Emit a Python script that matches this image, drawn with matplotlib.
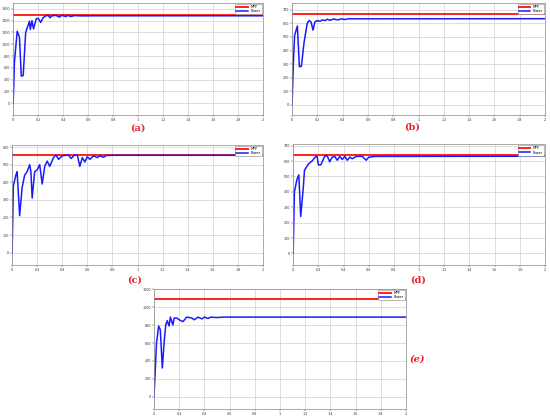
import matplotlib
matplotlib.use("Agg")
import matplotlib.pyplot as plt

# --- datos ---
t_a = [0, 0.01, 0.032, 0.05, 0.065, 0.08, 0.1, 0.13, 0.137, 0.15, 0.163, 0.184, 0.2, 0.22,
       0.24, 0.26, 0.28, 0.295, 0.31, 0.34, 0.37, 0.39, 0.42, 0.44, 0.46, 0.49, 0.55, 0.65, 2.0]
p_a = [0, 700, 1220, 1120, 460, 470, 1200, 1390, 1250, 1400, 1260, 1430, 1440, 1370,
       1450, 1480, 1490, 1450, 1480, 1490, 1460, 1490, 1470, 1490, 1470, 1485, 1480, 1482, 1482]
mpp_a = 1500

t_b = [0, 0.01, 0.02, 0.042, 0.058, 0.074, 0.095, 0.12, 0.135, 0.15, 0.166, 0.18, 0.2,
       0.22, 0.24, 0.26, 0.28, 0.3, 0.33, 0.36, 0.39, 0.42, 0.45, 0.48, 2.0]
p_b = [0, 300, 510, 580, 280, 285, 460, 600, 620, 610, 550, 610, 620,
       615, 625, 620, 630, 622, 632, 625, 633, 628, 634, 633, 634]
mpp_b = 665

t_c = [0, 0.01, 0.03, 0.04, 0.06, 0.08, 0.1, 0.12, 0.14, 0.15, 0.16, 0.18, 0.2, 0.22,
       0.24, 0.26, 0.28, 0.3, 0.33, 0.35, 0.37, 0.4, 0.45, 0.47, 0.5, 0.52, 0.54, 0.56,
       0.58, 0.6, 0.62, 0.65, 0.68, 0.7, 0.73, 0.75, 0.8, 0.9, 2.0]
p_c = [0, 380, 440, 460, 210, 370, 440, 460, 500, 460, 310, 460, 470, 500,
       390, 490, 520, 490, 540, 555, 530, 550, 555, 535, 555, 555, 490, 540,
       515, 545, 530, 550, 540, 550, 542, 552, 553, 553, 553]
mpp_c = 556

t_d = [0, 0.01, 0.03, 0.045, 0.06, 0.08, 0.09, 0.12, 0.15, 0.18, 0.19, 0.2, 0.22, 0.25,
       0.27, 0.29, 0.31, 0.33, 0.35, 0.37, 0.39, 0.41, 0.43, 0.45, 0.47, 0.5, 0.55,
       0.58, 0.6, 0.65, 2.0]
p_d = [0, 400, 480, 510, 240, 420, 540, 580, 600, 630, 630, 575, 575, 630,
       635, 595, 625, 630, 605, 630, 610, 630, 605, 625, 615, 630, 630,
       605, 625, 630, 631]
mpp_d = 636

t_e = [0, 0.02, 0.037, 0.05, 0.066, 0.08, 0.093, 0.105, 0.12, 0.13, 0.15, 0.16, 0.18,
       0.2, 0.23, 0.26, 0.3, 0.32, 0.35, 0.38, 0.4, 0.43, 0.45, 0.5, 0.55, 2.0]
p_e = [0, 600, 790, 750, 320, 600, 800, 850, 790, 890, 800, 880, 880,
       860, 840, 890, 880, 860, 890, 870, 890, 875, 890, 885, 890, 890]
mpp_e = 1090

paneles = [
    # (t, p, mpp, ylim, yticks, pos, etiqueta, pos_etiqueta)
    (t_a, p_a, mpp_a, (-200, 1700), range(0, 1601, 200), [0.024, 0.724, 0.454, 0.269], "(a)", (0.251, 0.693)),
    (t_b, p_b, mpp_b, (-75, 750), range(0, 701, 100), [0.531, 0.724, 0.46, 0.269], "(b)", (0.749, 0.695)),
    (t_c, p_c, mpp_c, (-70, 612), range(0, 601, 100), [0.022, 0.3645, 0.456, 0.288], "(c)", (0.245, 0.328)),
    (t_d, p_d, mpp_d, (-75, 710), range(0, 701, 100), [0.533, 0.3645, 0.458, 0.290], "(d)", (0.760, 0.328)),
    (t_e, p_e, mpp_e, (-140, 1205), range(0, 1201, 200), [0.280, 0.019, 0.458, 0.288], "(e)", (0.758, 0.139)),
]

fig = plt.figure(figsize=(5.5, 4.17), dpi=100)

for t, p, mpp, ylim, yticks, pos, etiqueta, pos_et in paneles:
    ax = fig.add_axes(pos)
    ax.plot([0, 2], [mpp, mpp], color="#ff2020", lw=1.4, label="MPP")
    ax.plot(t, p, color="#1a1aff", lw=1.1, label="Power")
    ax.set_xlim(0, 2)
    ax.set_ylim(*ylim)
    ax.set_xticks([i * 0.2 for i in range(11)])
    ax.set_xticklabels(["0", "0.2", "0.4", "0.6", "0.8", "1", "1.2", "1.4", "1.6", "1.8", "2"])
    ax.set_yticks(list(yticks))
    ax.tick_params(labelsize=2.4, length=1.2, width=0.3, pad=1.0, colors="#333333")
    ax.grid(True, color="#d0d0d0", lw=0.5)
    for s in ax.spines.values():
        s.set_color("#888888")
        s.set_linewidth(0.5)
    leg = ax.legend(loc="upper right", fontsize=2.4, handlelength=3.5, borderpad=0.3,
                    labelspacing=0.15, fancybox=False, framealpha=1, edgecolor="#888888",
                    borderaxespad=0.3)
    leg.get_frame().set_linewidth(0.4)
    fig.text(pos_et[0], pos_et[1], etiqueta, color="#e8202a", fontsize=7, fontweight="bold",
             family="DejaVu Serif", ha="center", va="center",
             style="italic" if etiqueta == "(e)" else "normal")

fig.savefig("out.png", dpi=100)
